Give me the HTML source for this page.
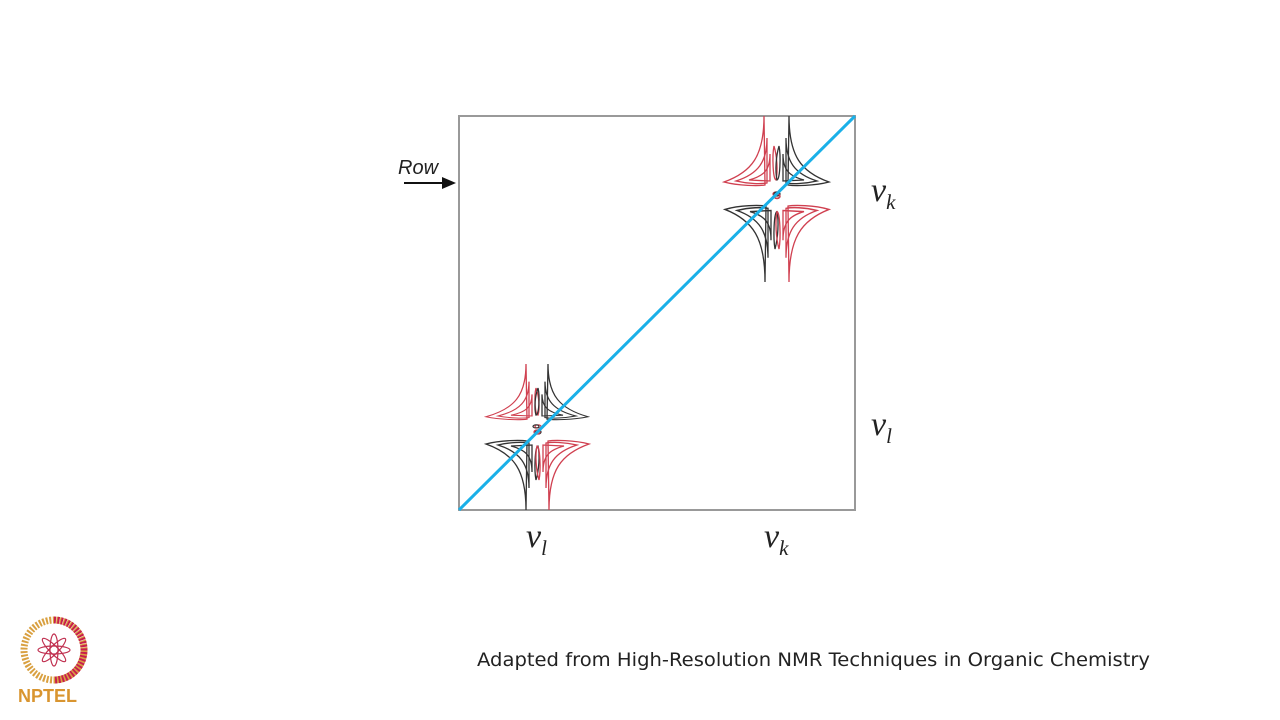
<!DOCTYPE html>
<html><head><meta charset="utf-8"><style>
body{margin:0;width:1280px;height:720px;background:#fff;overflow:hidden;position:relative;font-family:"Liberation Sans",sans-serif}
.nu{position:absolute;font-family:"Liberation Serif",serif;font-style:italic;font-size:34px;color:#222}
.nu sub{font-size:21px}
</style></head><body>
<svg width="1280" height="720" style="position:absolute;left:0;top:0">
<defs>
<g id="q" fill="none" stroke-width="1.3">
<path d="M0,-70 C0,-30 -12,-14 -40,-4 C-25,0 -5,0 1,-1 Z"/>
<path d="M3,-48 C3,-24 -6,-12 -28,-5 C-15,-2 -3,-2 3,-3 Z"/>
<path d="M6,-32 C6,-16 0,-10 -15,-6 L6,-5 Z"/>
<path d="M10,-40 C13,-30 14,-15 12,-6 C9,-6 8,-30 10,-40 Z"/>
<ellipse cx="12" cy="8" rx="3" ry="2"/>
</g>
</defs>
<rect x="459" y="116" width="396" height="394" fill="none" stroke="#999" stroke-width="2"/>
<g stroke="#d04050"><use href="#q" transform="translate(764,186)"/></g>
<g stroke="#333"><use href="#q" transform="translate(789,186) scale(-1,1)"/></g>
<g stroke="#333"><use href="#q" transform="translate(765,205) scale(1,-1.1)"/></g>
<g stroke="#d04050"><use href="#q" transform="translate(789,205) scale(-1,-1.1)"/></g>
<g stroke="#d04050"><use href="#q" transform="translate(526,420) scale(1,0.8)"/></g>
<g stroke="#333"><use href="#q" transform="translate(548,420) scale(-1,0.8)"/></g>
<g stroke="#333"><use href="#q" transform="translate(526,440) scale(1,-1)"/></g>
<g stroke="#d04050"><use href="#q" transform="translate(549,440) scale(-1,-1)"/></g>
<line x1="459" y1="510" x2="855" y2="116" stroke="#1ab0e8" stroke-width="3"/>
<line x1="404" y1="183" x2="444" y2="183" stroke="#111" stroke-width="2"/>
<polygon points="442,177 456,183 442,189" fill="#111"/>
<text x="398" y="174" font-family="Liberation Sans" font-style="italic" font-size="20" fill="#222">Row</text>
<g transform="translate(54,650)">
<circle r="30" fill="none" stroke="#d9a040" stroke-width="7" stroke-dasharray="2 1.5"/>
<path d="M0,-30 A30,30 0 0 1 0,30" fill="none" stroke="#c8204a" stroke-width="7" stroke-dasharray="2 1.5"/>
<g stroke="#c03050" stroke-width="1.2" fill="none">
<ellipse rx="4" ry="16"/><ellipse rx="4" ry="16" transform="rotate(45)"/><ellipse rx="4" ry="16" transform="rotate(90)"/><ellipse rx="4" ry="16" transform="rotate(135)"/>
</g>
</g>
<text x="18" y="702" font-family="Liberation Sans" font-weight="bold" font-size="18" fill="#d99530">NPTEL</text>
<text x="477" y="666" font-family="DejaVu Sans" font-size="19" fill="#222" textLength="673" lengthAdjust="spacingAndGlyphs">Adapted from High-Resolution NMR Techniques in Organic Chemistry</text>
</svg>
<div class="nu" style="left:871px;top:172px">ν<sub>k</sub></div>
<div class="nu" style="left:871px;top:406px">ν<sub>l</sub></div>
<div class="nu" style="left:526px;top:518px">ν<sub>l</sub></div>
<div class="nu" style="left:764px;top:518px">ν<sub>k</sub></div>
</body></html>
